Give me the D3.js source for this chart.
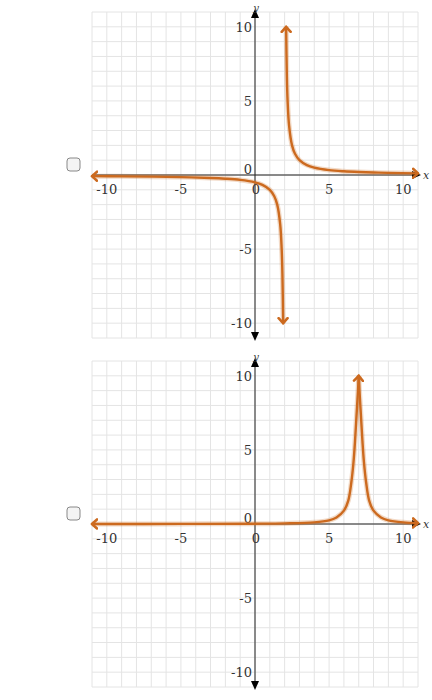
<!DOCTYPE html>
<html><head><meta charset="utf-8">
<script src="https://d3js.org/d3.v7.min.js"></script>
<style>body{margin:0;background:#fff}</style></head>
<body><svg id="c" width="432" height="700"></svg>
<script>
const xTicks=[-10,-5,0,5,10];
const yTicks=[-10,-5,5,10];
// graph 1: two branches
const g1LeftX=[-11,-9,-7,-5,-3,-2,-1,0,0.5,1,1.3,1.5,1.7,1.8,1.85,1.9];
const g1LeftY=[-0.077,-0.091,-0.111,-0.143,-0.2,-0.25,-0.333,-0.5,-0.667,-1,-1.429,-2,-3.333,-5,-6.667,-10];
const g1RightX=[11,9,8,7,6,5,4,3.5,3,2.7,2.5,2.3,2.2,2.15,2.1];
const g1RightY=[0.111,0.143,0.167,0.2,0.25,0.333,0.5,0.667,1,1.429,2,3.333,5,6.667,10];
// graph 2: peak at x=7
const g2LeftX=[-11,-5,0,2,4,5,5.5,6,6.3,6.5,6.65,6.75,6.85,6.95,7];
const g2LeftY=[0.003,0.007,0.02,0.04,0.111,0.25,0.444,0.9,1.6,2.8,4.2,5.6,7.3,9,10];
const g2RightX=[11,10,9,8.5,8,7.7,7.5,7.35,7.25,7.15,7.05,7];
const g2RightY=[0.0625,0.111,0.25,0.444,0.9,1.6,2.8,4.2,5.6,7.3,9,10];

const svg=d3.select("#c");
const col="#cc6a1f";
svg.append("defs").append("marker").attr("id","ar").attr("viewBox","-6 -6 12 12")
 .attr("refX",0).attr("refY",0).attr("markerWidth",12).attr("markerHeight",12)
 .attr("markerUnits","userSpaceOnUse").attr("orient","auto-start-reverse")
 .append("path").attr("d","M-5,-4.5L0,0L-5,4.5").attr("fill","none").attr("stroke",col)
 .attr("stroke-width",2.6).attr("stroke-linecap","round").attr("stroke-linejoin","round");

function panel(cy,series,marks){
  const x=d3.scaleLinear().domain([-11,11]).range([92,418]);
  const y=d3.scaleLinear().domain([-11,11]).range([cy+163,cy-163]);
  const g=svg.append("g");
  d3.range(-11,12).forEach(v=>{
    g.append("line").attr("x1",x(v)).attr("x2",x(v)).attr("y1",y(-11)).attr("y2",y(11)).attr("stroke","#e4e4e4").attr("stroke-width",1);
    g.append("line").attr("y1",y(v)).attr("y2",y(v)).attr("x1",x(-11)).attr("x2",x(11)).attr("stroke","#e4e4e4").attr("stroke-width",1);
  });
  g.append("line").attr("x1",x(-11)).attr("x2",x(11)-4).attr("y1",y(0)).attr("y2",y(0)).attr("stroke","#222");
  g.append("line").attr("x1",x(0)).attr("x2",x(0)).attr("y1",y(11)+4).attr("y2",y(-11)-4).attr("stroke","#222");
  const tri=(px,py,rot)=>g.append("path").attr("d","M0,-5L4,4L-4,4Z").attr("fill","#000")
     .attr("transform",`translate(${px},${py}) rotate(${rot})`);
  tri(x(0),y(11)+2,0); tri(x(0),y(-11)-2,180); tri(x(11)-2,y(0),90);
  const font="'DejaVu Serif',serif";
  xTicks.forEach(v=>g.append("text").attr("x",x(v)+(v===0?1:0)).attr("y",y(0)+19).attr("text-anchor","middle")
     .attr("font-family",font).attr("font-size",13).attr("fill","#333").text(v<0?"-"+(-v):v));
  g.append("text").attr("x",x(0)-3).attr("y",y(0)-1).attr("text-anchor","end")
     .attr("font-family",font).attr("font-size",13).attr("fill","#333").text("0");
  yTicks.forEach(v=>g.append("text").attr("x",x(0)-3).attr("y",y(v)+5).attr("text-anchor","end")
     .attr("font-family",font).attr("font-size",13).attr("fill","#333").text(v<0?"-"+(-v):v));
  g.append("text").attr("x",x(11)+5).attr("y",y(0)+4).attr("font-family",font).attr("font-style","italic")
     .attr("font-size",11).attr("fill","#333").text("x");
  g.append("text").attr("x",x(0)+1).attr("y",y(11)-1).attr("text-anchor","middle").attr("font-family",font).attr("font-style","italic")
     .attr("font-size",10).attr("fill","#333").text("y");
  g.append("rect").attr("x",67).attr("y",y(0)-17).attr("width",13).attr("height",13).attr("rx",3)
     .attr("fill","#f4f4f4").attr("stroke","#888").attr("stroke-width",1);
  const line=d3.line().x(d=>x(d[0])).y(d=>y(d[1])).curve(d3.curveMonotoneY);
  const lineX=d3.line().x(d=>x(d[0])).y(d=>y(d[1])).curve(d3.curveCatmullRom);
  series.forEach(([xs,ys],i)=>{
    const pts=xs.map((v,j)=>[v,ys[j]]);
    const d=lineX(pts);
    g.append("path").attr("d",d).attr("fill","none").attr("stroke",col).attr("stroke-opacity",0.25).attr("stroke-width",5);
    const p=g.append("path").attr("d",d).attr("fill","none").attr("stroke",col).attr("stroke-width",2.4).attr("stroke-linecap","round");
    if(marks[i][0]) p.attr("marker-start","url(#ar)");
    if(marks[i][1]) p.attr("marker-end","url(#ar)");
  });
}
panel(175,[[g1LeftX,g1LeftY],[g1RightX,g1RightY]],[[1,1],[1,1]]);
panel(524,[[g2LeftX,g2LeftY],[g2RightX,g2RightY]],[[1,1],[1,0]]);
</script></body></html>
